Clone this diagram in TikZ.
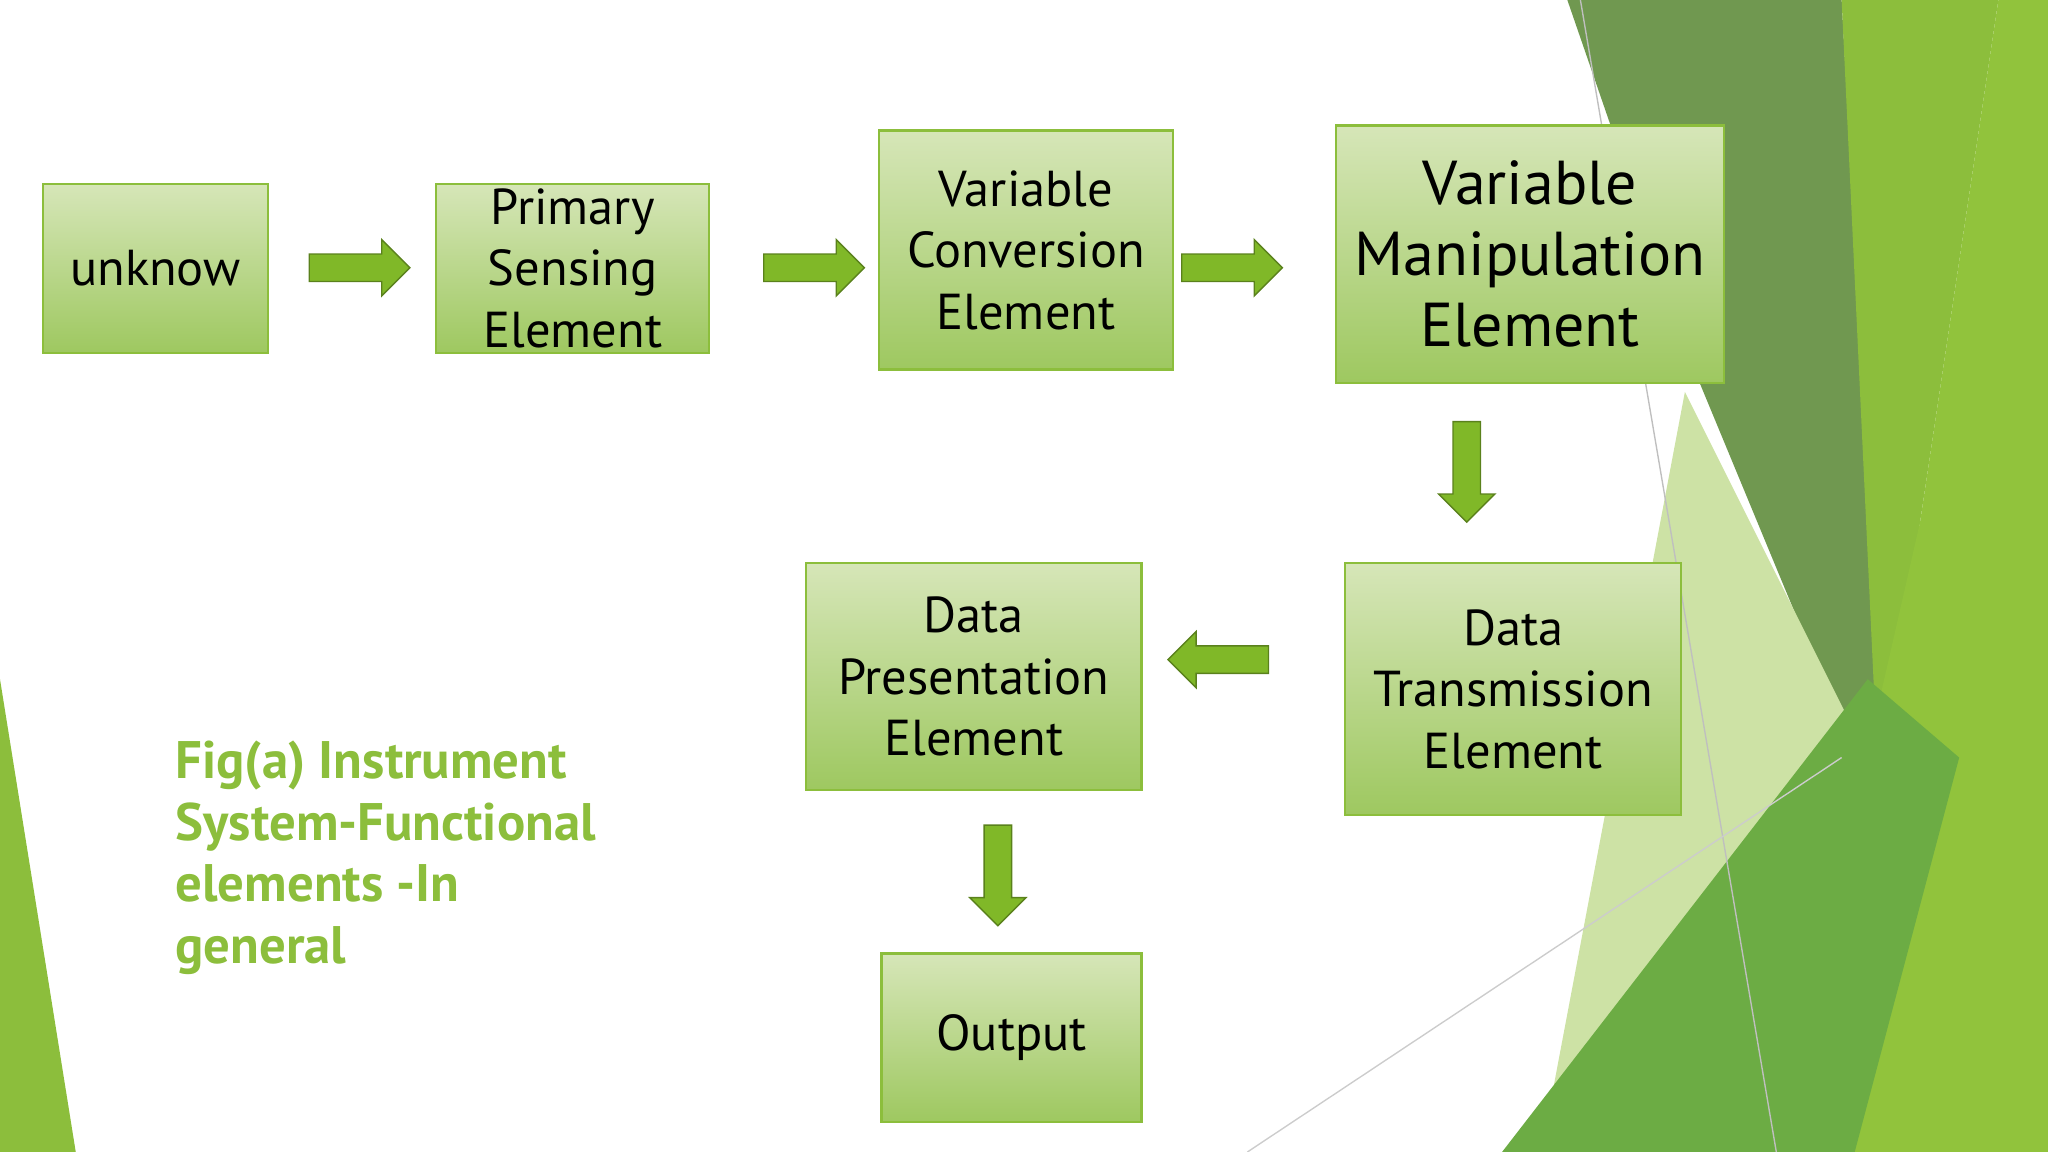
\documentclass[tikz,border=0pt]{standalone}
\usepackage{fontspec}
\setmainfont{PT Sans}
\usetikzlibrary{shapes.arrows}
\definecolor{gA}{RGB}{140,190,60}
\definecolor{gT}{RGB}{214,230,184}
\definecolor{gB}{RGB}{158,200,96}
\definecolor{gAr}{RGB}{128,184,40}
\begin{document}
\begin{tikzpicture}[x=0.1mm,y=-0.1mm,
 box/.style={draw=gA,line width=0.5pt,top color=gT,bottom color=gB,align=center,inner sep=0pt,font=\fontsize{11}{13.4}\selectfont},
 arr/.style={single arrow,draw=gAr!70!black,line width=0.3pt,fill=gAr,minimum height=7.7mm,minimum width=4.2mm,inner sep=1mm,single arrow head extend=1.1mm}]
\useasboundingbox (0,0) rectangle (1568,882);
% background
\fill[color={rgb,255:red,112;green,152;blue,80}] (1200,0)--(1410,0)--(1445,640)--(1300,290)--cycle;
\fill[color={rgb,255:red,205;green,226;blue,165}] (1290,300)--(1420,560)--(1230,882)--(1180,882)--cycle;
\fill[color={rgb,255:red,140;green,190;blue,60}] (1410,0)--(1530,0)--(1470,400)--(1440,640)--cycle;
\fill[color={rgb,255:red,145;green,195;blue,60}] (1530,0)--(1568,0)--(1568,882)--(1360,882)--(1470,400)--cycle;
\fill[color={rgb,255:red,108;green,172;blue,68}] (1150,882)--(1430,520)--(1500,580)--(1420,882)--cycle;
\fill[color={rgb,255:red,140;green,190;blue,60}] (0,520)--(58,882)--(0,882)--cycle;
\draw[gray!50,line width=0.3pt] (1210,0)--(1360,882);
\draw[gray!40,line width=0.3pt] (955,882)--(1410,580);
% boxes
\node[box,minimum width=17.2mm,minimum height=12.9mm] (u) at (119,205.5) {unknow};
\node[box,minimum width=20.9mm,minimum height=12.9mm] (p) at (438.5,205.5) {Primary\\Sensing\\Element};
\node[box,minimum width=22.5mm,minimum height=18.3mm] (c) at (785.5,191.5) {Variable\\Conversion\\Element};
\node[box,minimum width=29.7mm,minimum height=19.7mm,font=\fontsize{13.5}{15.5}\selectfont] (m) at (1171.5,194.5) {Variable\\Manipulation\\Element};
\node[box,minimum width=25.7mm,minimum height=19.3mm] (t) at (1158.5,527.5) {Data\\Transmission\\Element};
\node[box,minimum width=25.7mm,minimum height=17.4mm] (d) at (745.5,518) {Data\\Presentation\\Element};
\node[box,minimum width=19.9mm,minimum height=12.9mm] (o) at (774.5,794.5) {Output};
% arrows
\node[arr] (a1) at (270,205) {};
\node[arr] (a2) at (618,205) {};
\node[arr] (a3) at (938,205) {};
\node[arr,rotate=-90] (a4) at (1123,356) {};
\node[arr,rotate=180] (a5) at (938,505) {};
\node[arr,rotate=-90] (a6) at (764,665) {};
% caption
\node[anchor=north west,align=left,text=gA,font=\fontsize{11.5}{13.4}\selectfont\bfseries] (cap) at (122,555) {Fig(a) Instrument\\System-Functional\\elements -In\\general};
\end{tikzpicture}
\end{document}
